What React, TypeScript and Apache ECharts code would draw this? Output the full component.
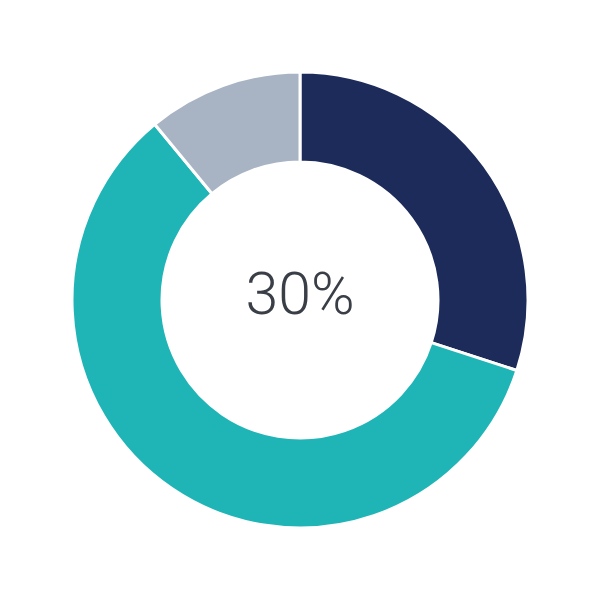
import { useEffect, useRef } from 'react';
import * as echarts from 'echarts';

const names = ['A', 'B', 'C'];
const values = [30, 59, 11];
const colors = ['#1c2b5a', '#1fb5b7', '#a8b3c3'];
const centerLabel = '30%';

export default function App() {
  const ref = useRef<HTMLDivElement>(null);

  useEffect(() => {
    if (!ref.current) return;
    const chart = echarts.init(ref.current, undefined, { renderer: 'svg' });
    chart.setOption({
      animation: false,
      graphic: [
        {
          type: 'text',
          x: 300,
          y: 293,
          style: {
            text: centerLabel,
            align: 'center',
            verticalAlign: 'middle',
            fontFamily: 'Roboto',
            fontWeight: 300,
            fontSize: 59,
            fill: '#3a3f47',
          },
        },
      ],
      series: [
        {
          type: 'pie',
          center: ['50%', '50%'],
          radius: ['46%', '76%'],
          startAngle: 90,
          clockwise: true,
          label: { show: false },
          labelLine: { show: false },
          itemStyle: { borderColor: '#ffffff', borderWidth: 3 },
          data: names.map((n, i) => ({
            name: n,
            value: values[i],
            itemStyle: { color: colors[i] },
          })),
        },
      ],
    });
    return () => chart.dispose();
  }, []);

  return (
    <div
      ref={ref}
      style={{ position: 'fixed', left: 0, top: 0, width: 600, height: 600, background: '#fff' }}
    />
  );
}
